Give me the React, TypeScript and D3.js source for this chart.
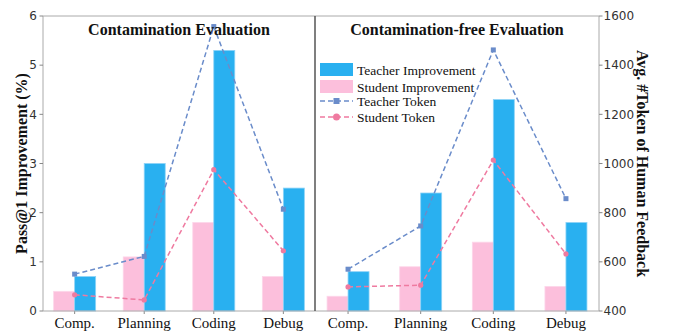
import React from "react";
import * as d3 from "d3";

const categories = ["Comp.", "Planning", "Coding", "Debug"];
const leftTeacherImp = [0.7, 3.0, 5.3, 2.5];
const leftStudentImp = [0.4, 1.1, 1.8, 0.7];
const leftTeacherTok = [550, 622, 1557, 814];
const leftStudentTok = [466, 445, 975, 645];
const rightTeacherImp = [0.8, 2.4, 4.3, 1.8];
const rightStudentImp = [0.3, 0.9, 1.4, 0.5];
const rightTeacherTok = [570, 746, 1462, 857];
const rightStudentTok = [498, 505, 1014, 632];
const leftTicks = [0, 1, 2, 3, 4, 5, 6];
const rightTicks = [400, 600, 800, 1000, 1200, 1400, 1600];
const panelTitles = ["Contamination Evaluation", "Contamination-free Evaluation"];

const W = 678, H = 335;
const X0 = 43, XM = 315, X1 = 599, Y0 = 16, Y1 = 311;
const BLUE = "#29b0f0", PINK = "#fcbfdc", TBLUE = "#6a8cca", SPINK = "#ef7aa0";
const SERIF = "'Liberation Serif', 'Times New Roman', serif";
const SANS = "'DejaVu Sans', sans-serif";

const yL = d3.scaleLinear().domain([0, 6]).range([Y1, Y0]);
const yR = d3.scaleLinear().domain([400, 1600]).range([Y1, Y0]);

function Panel({ x0, x1, title, tImp, sImp, tTok, sTok }: any) {
  const x = d3.scalePoint<string>().domain(categories).range([x0, x1]).padding(0.455);
  const bw = 21;
  const lineGen = (vals: number[]) =>
    d3.line<number>().x((_, i) => x(categories[i])!).y((v) => yR(v))(vals) || "";
  return (
    <g>
      {categories.map((c, i) => (
        <g key={c}>
          <rect x={x(c)! - bw} y={yL(sImp[i])} width={bw} height={Y1 - yL(sImp[i])} fill={PINK} stroke="#fdd6ea" strokeWidth={0.8} />
          <rect x={x(c)!} y={yL(tImp[i])} width={bw} height={Y1 - yL(tImp[i])} fill={BLUE} stroke="#8dd3f7" strokeWidth={0.8} />
          <line x1={x(c)} x2={x(c)} y1={Y1} y2={Y1 + 3} stroke="#888" />
          <text x={x(c)} y={328} textAnchor="middle" fontFamily={SERIF} fontSize={15} fill="#111">{c}</text>
        </g>
      ))}
      <path d={lineGen(tTok)} fill="none" stroke={TBLUE} strokeWidth={1.5} strokeDasharray="5,3" />
      <path d={lineGen(sTok)} fill="none" stroke={SPINK} strokeWidth={1.5} strokeDasharray="5,3" />
      {tTok.map((v: number, i: number) => (
        <rect key={"t" + i} x={x(categories[i])! - 2.5} y={yR(v) - 2.5} width={5} height={5} fill={TBLUE} />
      ))}
      {sTok.map((v: number, i: number) => (
        <circle key={"s" + i} cx={x(categories[i])} cy={yR(v)} r={2.6} fill={SPINK} />
      ))}
      <text x={(x0 + x1) / 2} y={35} textAnchor="middle" fontFamily={SERIF} fontWeight="bold" fontSize={16} fill="#111">{title}</text>
    </g>
  );
}

export default function App() {
  return (
    <svg width={W} height={H} style={{ position: "absolute", left: 0, top: 0, background: "#fff" }}>
      <rect x={0} y={0} width={W} height={H} fill="#fff" />
      <Panel x0={X0} x1={XM} title={panelTitles[0]} tImp={leftTeacherImp} sImp={leftStudentImp} tTok={leftTeacherTok} sTok={leftStudentTok} />
      <Panel x0={XM} x1={X1} title={panelTitles[1]} tImp={rightTeacherImp} sImp={rightStudentImp} tTok={rightTeacherTok} sTok={rightStudentTok} />
      {/* frame */}
      <line x1={X0} x2={X1} y1={Y0} y2={Y0} stroke="#aaa" />
      <line x1={X0} x2={X1} y1={Y1} y2={Y1} stroke="#aaa" />
      <line x1={X0} x2={X0} y1={Y0} y2={Y1} stroke="#aaa" />
      <line x1={X1} x2={X1} y1={Y0} y2={Y1} stroke="#aaa" />
      <line x1={XM} x2={XM} y1={Y0} y2={Y1} stroke="#555" strokeWidth={1.5} />
      {/* left axis */}
      {leftTicks.map((t) => (
        <g key={t}>
          <line x1={X0 - 3.5} x2={X0} y1={yL(t)} y2={yL(t)} stroke="#888" />
          <text x={X0 - 6} y={yL(t) + 4.3} textAnchor="end" fontFamily={SANS} fontSize={12} fill="#333">{t}</text>
        </g>
      ))}
      {rightTicks.map((t) => (
        <g key={t}>
          <line x1={X1} x2={X1 + 3.5} y1={yR(t)} y2={yR(t)} stroke="#888" />
          <text x={X1 + 4.5} y={yR(t) + 4.3} textAnchor="start" fontFamily={SANS} fontSize={12} fill="#333">{t}</text>
        </g>
      ))}
      <text transform={`translate(21,${(Y0 + Y1) / 2}) rotate(-90)`} textAnchor="middle" dy="0.35em" fontFamily={SERIF} fontWeight="bold" fontSize={16} fill="#111">Pass@1 Improvement (%)</text>
      <text transform={`translate(643,${(Y0 + Y1) / 2}) rotate(90)`} textAnchor="middle" dy="0.35em" fontFamily={SERIF} fontWeight="bold" fontSize={16} fill="#111">Avg. #Token of Human Feedback</text>
      {/* legend */}
      <g fontFamily={SERIF} fontSize={13.5} fill="#111">
        <rect x={320} y={63} width={33} height={13} fill={BLUE} />
        <text x={357} y={75}>Teacher Improvement</text>
        <rect x={320} y={80} width={33} height={13} fill={PINK} />
        <text x={357} y={92}>Student Improvement</text>
        <line x1={320} x2={353} y1={101} y2={101} stroke={TBLUE} strokeWidth={1.5} strokeDasharray="5,3" />
        <rect x={333.5} y={98} width={6} height={6} fill={TBLUE} />
        <text x={357} y={106}>Teacher Token</text>
        <line x1={320} x2={353} y1={117} y2={117} stroke={SPINK} strokeWidth={1.5} strokeDasharray="5,3" />
        <circle cx={336.5} cy={117} r={3.5} fill={SPINK} />
        <text x={357} y={122}>Student Token</text>
      </g>
    </svg>
  );
}
